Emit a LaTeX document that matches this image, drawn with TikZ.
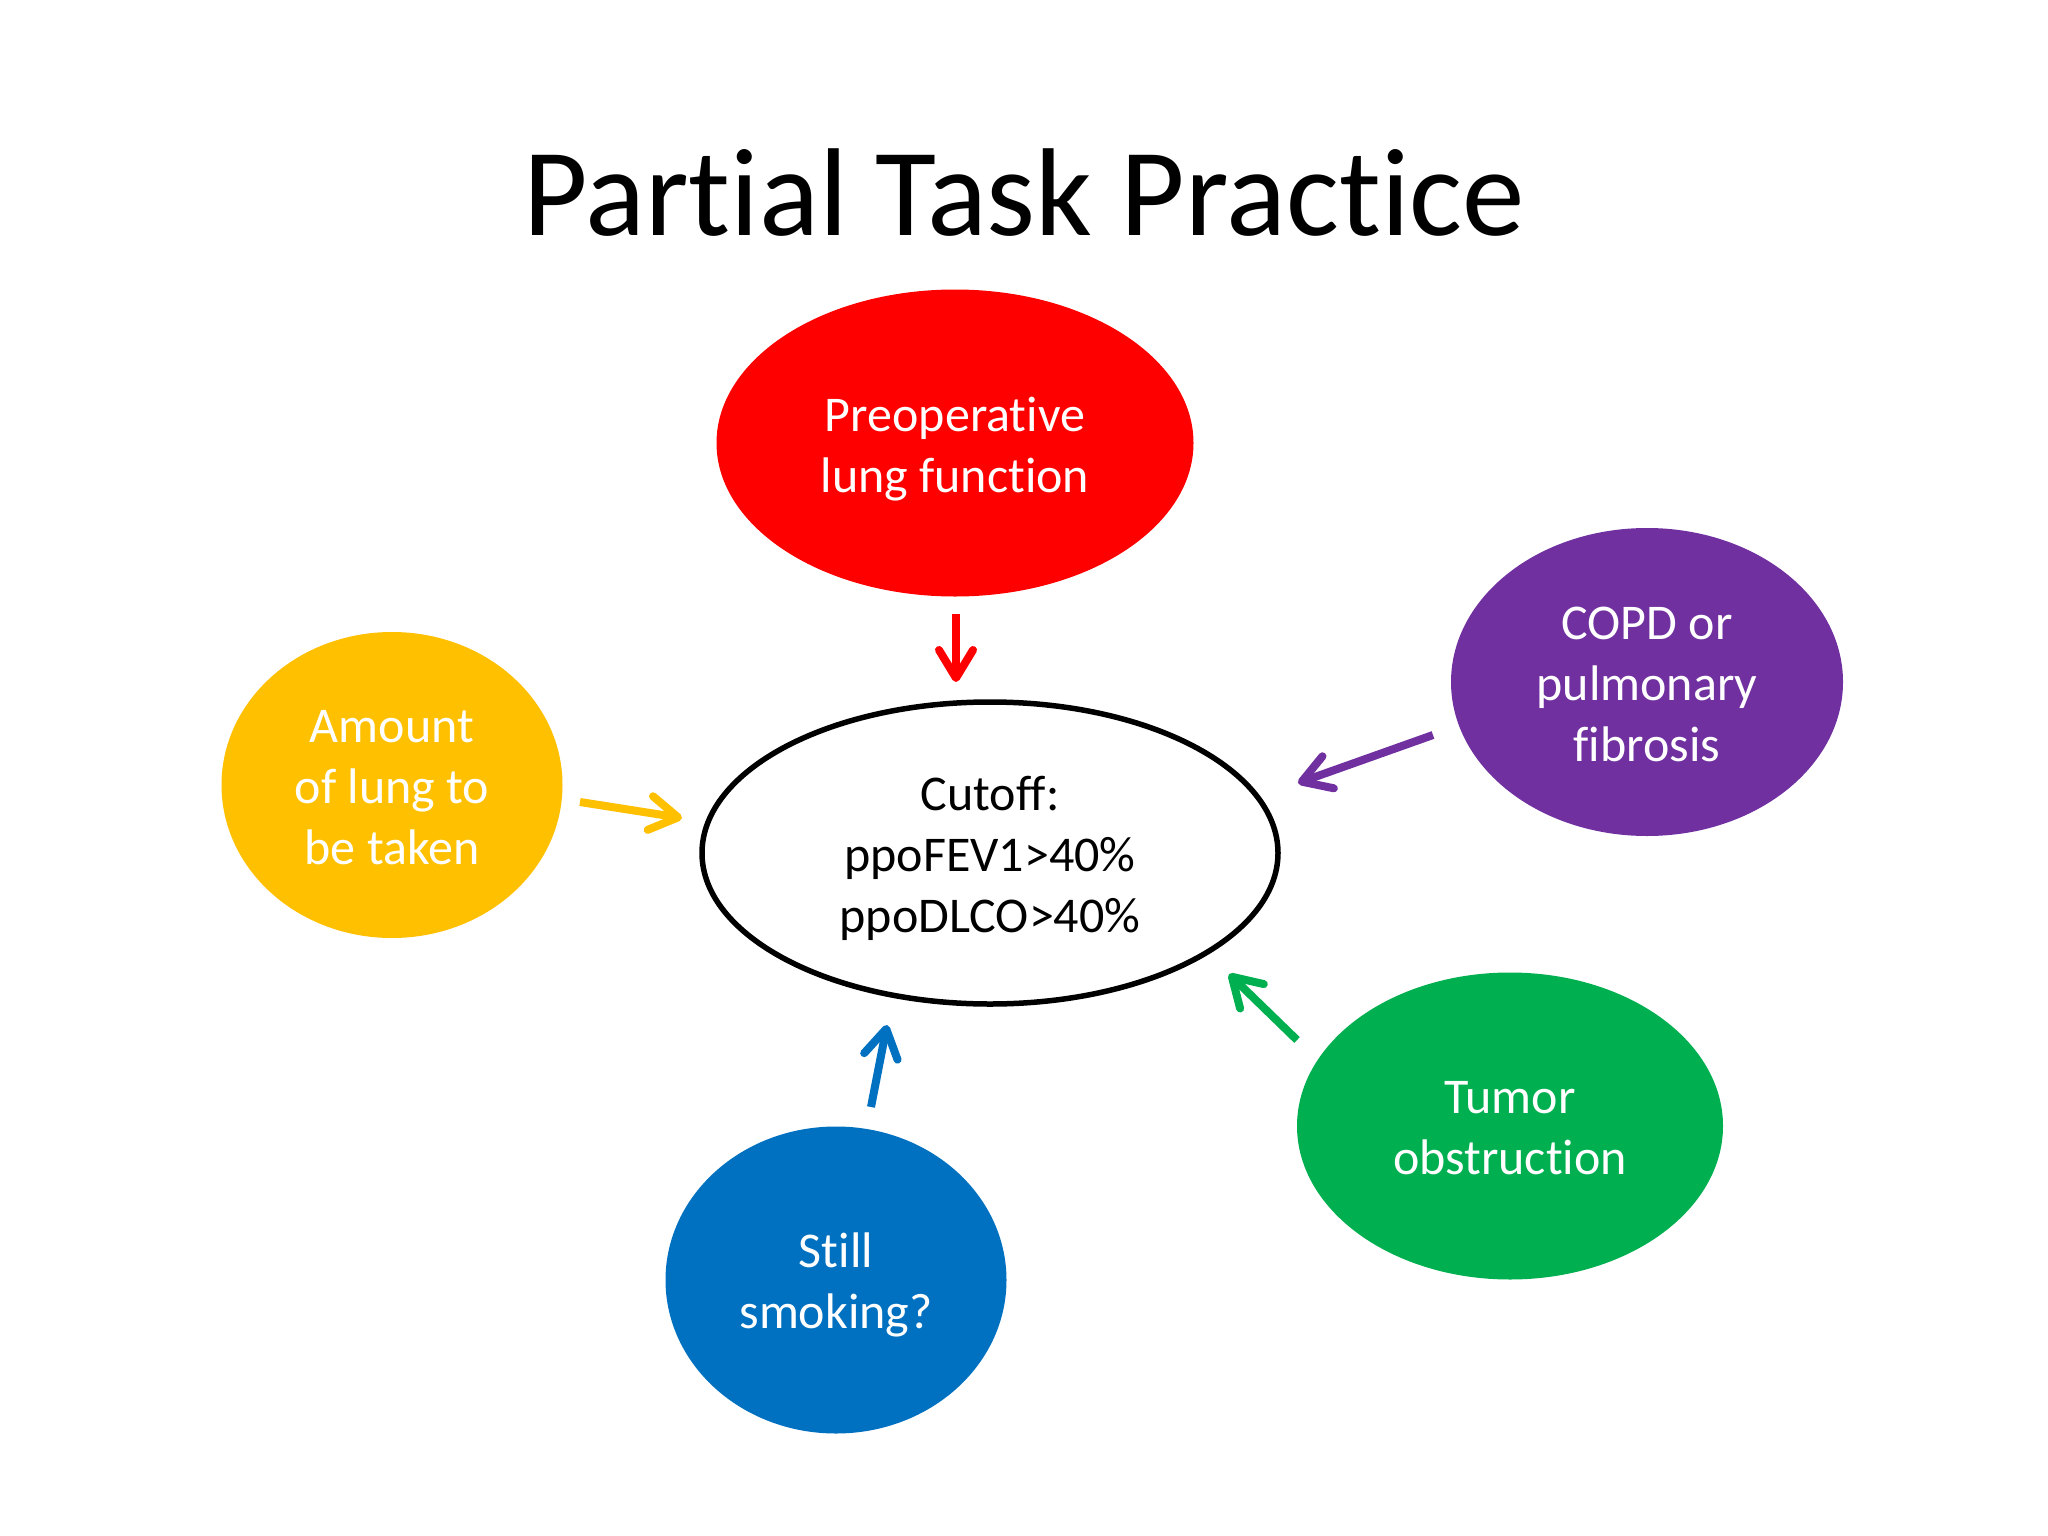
\documentclass[tikz,border=0pt]{standalone}
\usepackage{fontspec}
\setmainfont{Carlito}[Ligatures={NoCommon}]
\usetikzlibrary{shapes.geometric,arrows.meta}
\definecolor{cred}{HTML}{FF0000}
\definecolor{cpurple}{HTML}{7030A0}
\definecolor{cyellow}{HTML}{FFC000}
\definecolor{cgreen}{HTML}{00B050}
\definecolor{cblue}{HTML}{0070C0}
\newcommand{\ovtext}[2]{\raisebox{#1}[0pt][0pt]{\begin{tabular}[b]{@{}c@{}}#2\end{tabular}}}
\begin{document}
\begin{tikzpicture}[x=1pt,y=-1pt,
  bubble/.style={ellipse, inner sep=0pt, outer sep=0pt, text=white, font=\fontsize{50}{61}\selectfont},
  conn/.style={line width=8pt, -{Straight Barb[length=28pt,width=34pt,round]}},
]
\fill[white] (0,0) rectangle (2048,1536);
\useasboundingbox (0,0) rectangle (2048,1536);
\node[anchor=base, font=\fontsize{125}{150}\selectfont, inner sep=0pt] (title) at (1024,235) {Partial Task Practice};
\node[bubble, fill=cred, minimum width=477pt, minimum height=307pt] (pre) at (955,443) {\ovtext{-49pt}{Preoperative\\lung function}};
\node[bubble, fill=cpurple, minimum width=392pt, minimum height=308pt] (copd) at (1647,682) {\ovtext{-79pt}{COPD or\\pulmonary\\fibrosis}};
\node[bubble, fill=cyellow, minimum width=341pt, minimum height=306pt] (amount) at (392,785) {\ovtext{-79pt}{Amount\\of lung to\\be taken}};
\node[bubble, draw=black, line width=5.5pt, fill=white, text=black, minimum width=576pt, minimum height=302pt] (cutoff) at (990,853) {\ovtext{-79pt}{Cutoff:\\ppoFEV1>40\%\\ppoDLCO>40\%}};
\node[bubble, fill=cgreen, minimum width=426pt, minimum height=307pt] (tumor) at (1510,1126) {\ovtext{-48.5pt}{Tumor\\obstruction}};
\node[bubble, fill=cblue, minimum width=341pt, minimum height=307pt] (smoke) at (836,1280) {\ovtext{-48.5pt}{Still\\smoking?}};
\coordinate (preA) at (956,614);   \coordinate (preB) at (956,682);
\coordinate (copdA) at (1433,735); \coordinate (copdB) at (1298,783);
\coordinate (amA) at (580,802);    \coordinate (amB) at (682,818);
\coordinate (tuA) at (1297,1040);  \coordinate (tuB) at (1229,974);
\coordinate (smA) at (871,1107);   \coordinate (smB) at (887,1025);
\draw[conn, cred] (preA) -- (preB);
\draw[conn, cpurple] (copdA) -- (copdB);
\draw[conn, cyellow] (amA) -- (amB);
\draw[conn, cgreen] (tuA) -- (tuB);
\draw[conn, cblue] (smA) -- (smB);
\end{tikzpicture}
\end{document}
